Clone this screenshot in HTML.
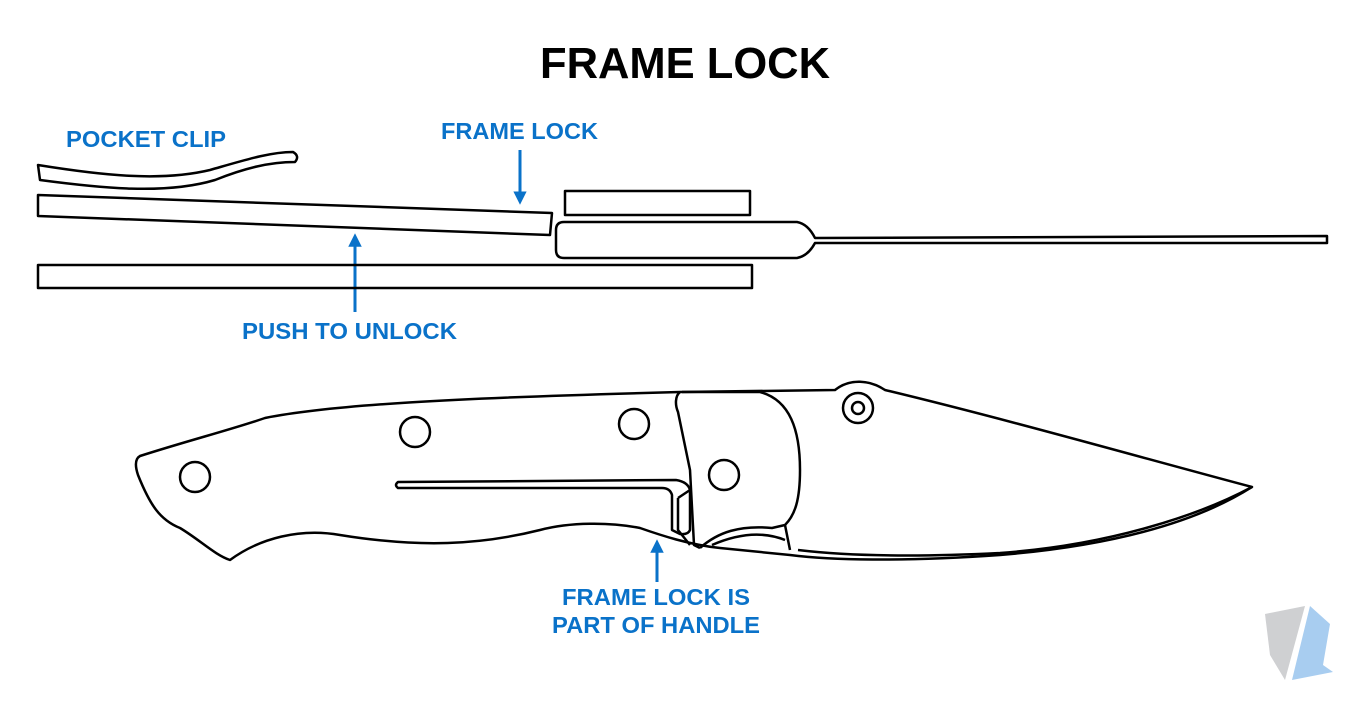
<!DOCTYPE html>
<html><head><meta charset="utf-8"><style>
html,body{margin:0;padding:0;background:#fff;}
svg{display:block;}
text{font-family:"Liberation Sans",sans-serif;font-weight:bold;}
</style></head><body>
<svg width="1370" height="702" viewBox="0 0 1370 702" xmlns="http://www.w3.org/2000/svg">
<defs>
<marker id="ah" viewBox="0 0 10 10" refX="5" refY="5" markerWidth="4.5" markerHeight="5" orient="auto-start-reverse">
<path d="M0,0 L10,5 L0,10 z" fill="#0a72c9"/></marker>
</defs>
<text x="685" y="78" text-anchor="middle" font-size="44" fill="#000" textLength="290" lengthAdjust="spacingAndGlyphs">FRAME LOCK</text>
<g fill="#0a72c9" font-size="23">
<text x="66" y="147" textLength="160" lengthAdjust="spacingAndGlyphs">POCKET CLIP</text>
<text x="441" y="139" textLength="157" lengthAdjust="spacingAndGlyphs">FRAME LOCK</text>
<text x="242" y="339" textLength="215" lengthAdjust="spacingAndGlyphs">PUSH TO UNLOCK</text>
<text x="562" y="605" textLength="188" lengthAdjust="spacingAndGlyphs">FRAME LOCK IS</text>
<text x="552" y="633" textLength="208" lengthAdjust="spacingAndGlyphs">PART OF HANDLE</text>
</g>
<g stroke="#0a72c9" stroke-width="3" fill="none">
<line x1="520" y1="150" x2="520" y2="198" marker-end="url(#ah)"/>
<line x1="355" y1="312" x2="355" y2="240" marker-end="url(#ah)"/>
<line x1="657" y1="582" x2="657" y2="546" marker-end="url(#ah)"/>
</g>
<g stroke="#000" stroke-width="2.5" fill="none" stroke-linejoin="round">
<path d="M38,165 C100,175 160,182 210,170 C245,160 270,152 293,152 Q300,156 295,162 C270,162 245,168 215,180 C165,195 100,188 40,180 Z"/>
<path d="M38,195 L552,213 L550,235 L38,216 Z"/>
<rect x="565" y="191" width="185" height="24"/>
<path d="M564,222 L797,222 Q808,224 815,238 L1327,236 L1327,243 L815,243 Q808,256 797,258 L564,258 Q556,258 556,250 L556,230 Q556,222 564,222 Z"/>
<rect x="38" y="265" width="714" height="23"/>
<path d="M140,456 C190,440 230,430 265,418 C330,405 450,398 680,392 L835,390 C850,378 870,380 885,390 C1010,420 1150,460 1252,487 C1200,520 1120,545 1000,555 C900,562 830,560 790,555 L720,548 C690,545 660,535 640,528 C610,522 570,522 540,530 C480,545 420,548 340,535 C300,528 260,538 230,560 C215,555 200,540 180,528 C160,520 150,505 138,475 Q133,460 140,456 Z"/>
<path d="M1252,487 C1200,515 1110,545 1000,553 C900,558 840,555 798,550" />
<circle cx="195" cy="477" r="15"/>
<circle cx="415" cy="432" r="15"/>
<circle cx="634" cy="424" r="15"/>
<circle cx="724" cy="475" r="15"/>
<circle cx="858" cy="408" r="15"/>
<circle cx="858" cy="408" r="6"/>
<path d="M398,482 L676,480 Q688,482 690,490 L690,530 Q688,535 680,534 L672,530 L672,495 Q670,488 662,488 L398,488 Q394,485 398,482 Z"/>
<path d="M680,392 C675,396 675,405 678,412 L690,470 L694,545 L700,548"/>
<path d="M678,498 L690,490 M678,498 L678,530 L690,545"/>
<path d="M682,392 L760,392 C790,400 800,430 800,470 C800,500 795,515 785,525 L772,528 C740,525 718,532 700,548"/>
<path d="M785,525 L790,550 M712,545 C735,535 760,530 785,540"/>
</g>
<path d="M1265,614 L1305,606 L1285,680 L1270,655 Z" fill="#cfd0d2"/>
<path d="M1310,606 L1330,624 L1323,665 L1333,672 L1292,680 Z" fill="#a8cdf0"/>
</svg>
</body></html>
